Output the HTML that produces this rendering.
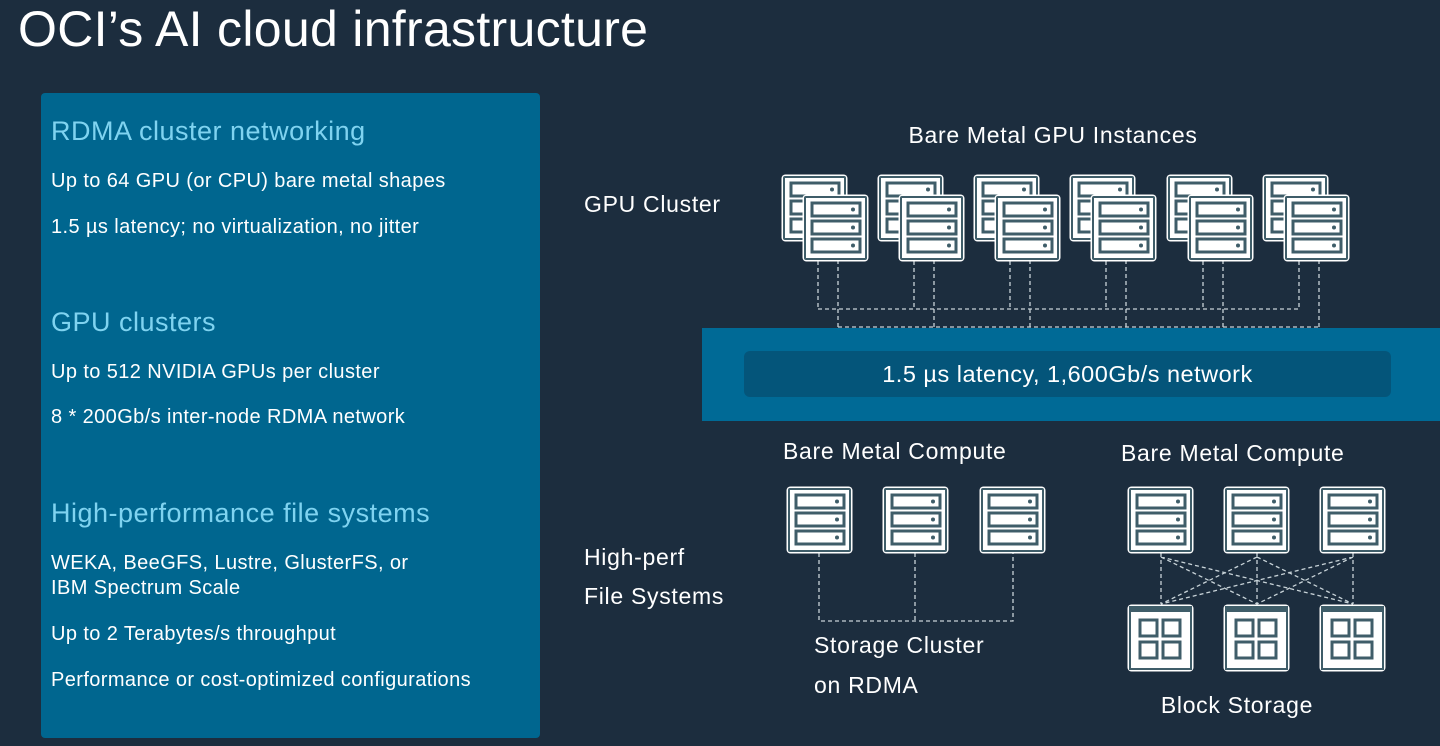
<!DOCTYPE html>
<html><head><meta charset="utf-8"><style>
body{margin:0;width:1440px;height:746px;background:#1c2d3e;position:relative;overflow:hidden;font-family:"Liberation Sans",sans-serif;color:#fff}
.t{position:absolute;white-space:nowrap;line-height:30px}
.h{color:#7fd3f0;font-size:27px;letter-spacing:0.5px}
.b{font-size:20px;letter-spacing:0.4px}
.r{font-size:23px;letter-spacing:0.7px}
</style></head><body>
<div class="t" style="left:18px;top:3px;font-size:50px;line-height:52px;letter-spacing:0.3px">OCI’s AI cloud infrastructure</div>
<div style="position:absolute;left:41px;top:93px;width:499px;height:645px;background:#00668f;border-radius:4px"></div>
<div class="t h" style="left:51px;top:116px">RDMA cluster networking</div>
<div class="t b" style="left:51px;top:166px">Up to 64 GPU (or CPU) bare metal shapes</div>
<div class="t b" style="left:51px;top:212px">1.5 µs latency; no virtualization, no jitter</div>
<div class="t h" style="left:51px;top:307px">GPU clusters</div>
<div class="t b" style="left:51px;top:357px">Up to 512 NVIDIA GPUs per cluster</div>
<div class="t b" style="left:51px;top:402px">8 * 200Gb/s inter-node RDMA network</div>
<div class="t h" style="left:51px;top:498px">High-performance file systems</div>
<div class="t b" style="left:51px;top:548px">WEKA, BeeGFS, Lustre, GlusterFS, or</div>
<div class="t b" style="left:51px;top:573px">IBM Spectrum Scale</div>
<div class="t b" style="left:51px;top:619px">Up to 2 Terabytes/s throughput</div>
<div class="t b" style="left:51px;top:665px">Performance or cost-optimized configurations</div>

<div style="position:absolute;left:702px;top:328px;width:738px;height:93px;background:#006a96"></div>
<div style="position:absolute;left:744px;top:351px;width:647px;height:46px;background:#04557a;border-radius:6px"></div>
<div class="t r" style="left:744px;top:359px;width:647px;text-align:center;font-size:23.5px;letter-spacing:0.5px">1.5 µs latency, 1,600Gb/s network</div>

<div class="t r" style="left:853px;top:120px;width:400px;text-align:center">Bare Metal GPU Instances</div>
<div class="t r" style="left:584px;top:189px">GPU Cluster</div>
<div class="t r" style="left:783px;top:436px">Bare Metal Compute</div>
<div class="t r" style="left:1121px;top:438px">Bare Metal Compute</div>
<div class="t r" style="left:584px;top:542px">High-perf</div>
<div class="t r" style="left:584px;top:581px">File Systems</div>
<div class="t r" style="left:814px;top:630px">Storage Cluster</div>
<div class="t r" style="left:814px;top:670px">on RDMA</div>
<div class="t r" style="left:1137px;top:690px;width:200px;text-align:center">Block Storage</div>

<svg width="1440" height="746" style="position:absolute;left:0;top:0">
<defs>
<g id="srv">
<rect x="0.5" y="0.5" width="66" height="67" rx="4" fill="#fff"/>
<rect x="3" y="3" width="61" height="62" rx="1" fill="none" stroke="#3f5d69" stroke-width="2"/>
<g fill="#fff" stroke="#3f5d69" stroke-width="3">
<rect x="10" y="9" width="48" height="13"/><rect x="10" y="27" width="48" height="13"/><rect x="10" y="45" width="48" height="13"/>
</g>
<g fill="#3f5d69"><circle cx="51" cy="15.5" r="2"/><circle cx="51" cy="33.5" r="2"/><circle cx="51" cy="51.5" r="2"/></g>
</g>
<g id="sto">
<rect x="0.5" y="0.5" width="66" height="67" rx="4" fill="#fff"/>
<rect x="3" y="7" width="61" height="58" fill="none" stroke="#3f5d69" stroke-width="2"/>
<rect x="2" y="2" width="63" height="5" fill="#3f5d69"/>
<g fill="#fff" stroke="#3f5d69" stroke-width="3">
<rect x="13" y="16" width="17" height="16"/><rect x="36" y="16" width="17" height="16"/>
<rect x="13" y="38" width="17" height="16"/><rect x="36" y="38" width="17" height="16"/>
</g>
</g>
</defs>
<g stroke="#c8d3d8" stroke-width="1.3" stroke-dasharray="4 3" fill="none">
<path d="M818 240V309M914 240V309M1010 240V309M1106 240V309M1203 240V309M1299 240V309M818 309H1299"/>
<path d="M838 260V327M934 260V327M1030 260V327M1126 260V327M1223 260V327M1319 260V327M838 327H1319"/>
<path d="M819 553V621H1013V553M915 553V621"/>
<path d="M1161 553V604M1257 553V604M1353 553V604M1161 557L1257 604M1161 557L1353 604M1257 557L1161 604M1257 557L1353 604M1353 557L1161 604M1353 557L1257 604"/>
</g>
<use href="#srv" x="781" y="174"/><use href="#srv" x="802" y="194"/>
<use href="#srv" x="877" y="174"/><use href="#srv" x="898" y="194"/>
<use href="#srv" x="973" y="174"/><use href="#srv" x="994" y="194"/>
<use href="#srv" x="1069" y="174"/><use href="#srv" x="1090" y="194"/>
<use href="#srv" x="1166" y="174"/><use href="#srv" x="1187" y="194"/>
<use href="#srv" x="1262" y="174"/><use href="#srv" x="1283" y="194"/>
<use href="#srv" x="786" y="486"/><use href="#srv" x="882" y="486"/><use href="#srv" x="979" y="486"/>
<use href="#srv" x="1127" y="486"/><use href="#srv" x="1223" y="486"/><use href="#srv" x="1319" y="486"/>
<use href="#sto" x="1127" y="604"/><use href="#sto" x="1223" y="604"/><use href="#sto" x="1319" y="604"/>
</svg>
</body></html>
